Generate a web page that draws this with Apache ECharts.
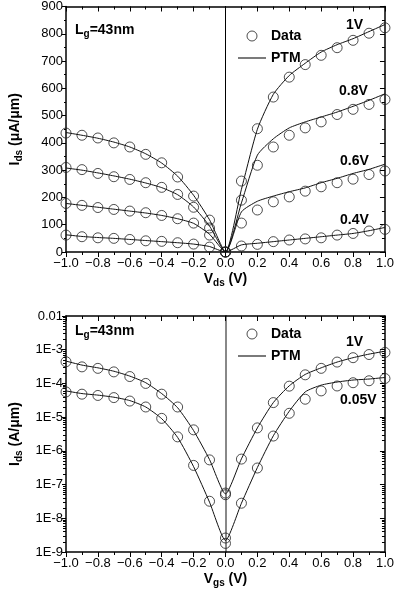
<!DOCTYPE html>
<html>
<head>
<meta charset="utf-8">
<title>Ids-Vds and Ids-Vgs, Lg=43nm</title>
<script src="https://cdn.jsdelivr.net/npm/echarts@6/dist/echarts.min.js"></script>
<style>
  html, body { margin: 0; padding: 0; background: #fff; }
  #chart { width: 397px; height: 597px; }
</style>
</head>
<body>
<div id="chart"></div>
<script>
// bias points (V), same for both panels
var vBias = [-1.0, -0.9, -0.8, -0.7, -0.6, -0.5, -0.4, -0.3, -0.2, -0.1, 0.0,
             0.1, 0.2, 0.3, 0.4, 0.5, 0.6, 0.7, 0.8, 0.9, 1.0];

// top panel: Ids (uA/um) vs Vds, one curve per Vgs
var data1V  = [436, 428, 418, 400, 385, 358, 327, 275, 205, 117, 0, 260, 452, 568, 641, 687, 721, 749, 776, 802, 822];
var data08V = [310, 302, 288, 276, 266, 254, 237, 211, 164, 88, 0, 190, 318, 385, 428, 455, 477, 504, 523, 541, 559];
var data06V = [178, 171, 163, 156, 150, 144, 134, 122, 106, 62, 0, 106, 154, 184, 202, 223, 239, 254, 267, 284, 297];
var data04V = [62, 56, 52, 50, 46, 41, 39, 34, 29, 18, 0, 22, 28, 38, 44, 48, 52, 62, 68, 77, 83];

var ptm1V  = [438, 428, 417, 403, 385, 360, 326, 278, 208, 118, 0, 230, 450, 578, 647, 692, 733, 760, 782, 808, 834];
var ptm08V = [308, 300, 290, 279, 267, 253, 236, 210, 165, 95, 0, 180, 355, 415, 455, 477, 495, 513, 534, 556, 580];
var ptm06V = [178, 171, 164, 157, 150, 143, 134, 122, 105, 65, 0, 147, 186, 205, 221, 235, 254, 270, 288, 303, 322];
var ptm04V = [63, 57, 53, 50, 46, 42, 38, 34, 29, 20, 0, 26, 32, 38, 44, 50, 56, 62, 68, 78, 90];

// bottom panel: Ids (A/um) vs Vgs, one curve per Vds
var dataLog1V  = [4.4e-4, 3.1e-4, 2.8e-4, 2.2e-4, 1.6e-4, 1.0e-4, 4.8e-5, 2.0e-5, 4.2e-6, 5.4e-7, 5.6e-8,
                  5.7e-7, 4.8e-6, 2.7e-5, 8.3e-5, 1.8e-4, 2.8e-4, 4.3e-4, 5.8e-4, 7.2e-4, 8.3e-4];
var dataLog005 = [5.6e-5, 4.8e-5, 4.4e-5, 3.8e-5, 3.0e-5, 2.0e-5, 9.2e-6, 2.6e-6, 3.7e-7, 3.2e-8, 2.6e-9,
                  2.8e-8, 3.1e-7, 2.75e-6, 1.3e-5, 3.4e-5, 6.0e-5, 8.4e-5, 1.05e-4, 1.2e-4, 1.4e-4];
// second, overlapping measurement at Vgs = 0
var dataLogZero = [[0, 5.0e-8], [0, 1.8e-9]];

var ptmLog1V  = [4.6e-4, 3.5e-4, 2.9e-4, 2.3e-4, 1.65e-4, 1.05e-4, 5.0e-5, 1.9e-5, 4.0e-6, 5.5e-7, 5.3e-8,
                 5.8e-7, 4.8e-6, 2.7e-5, 8.5e-5, 1.85e-4, 2.9e-4, 4.3e-4, 5.8e-4, 7.4e-4, 9.0e-4];
var ptmLog005 = [6.0e-5, 5.0e-5, 4.5e-5, 3.9e-5, 3.1e-5, 2.0e-5, 9.0e-6, 2.5e-6, 3.4e-7, 3.0e-8, 2.2e-9,
                 2.8e-8, 3.2e-7, 2.8e-6, 1.5e-5, 5.6e-5, 8.9e-5, 1.1e-4, 1.26e-4, 1.35e-4, 1.5e-4];

function pairs(ys) {
    return vBias.map(function (v, i) { return [v, ys[i]]; });
}

var FONT = 'Liberation Sans, Arial, sans-serif';
var black = '#000';
var circleStyle = { color: 'rgba(0,0,0,0)', borderColor: '#222', borderWidth: 1 };

function dataSeries(ys, xi, yi) {
    return {
        name: 'Data', type: 'scatter', xAxisIndex: xi, yAxisIndex: yi,
        symbol: 'circle', symbolSize: 10,
        itemStyle: circleStyle,
        data: ys, z: 3
    };
}
function ptmSeries(ys, xi, yi) {
    return {
        name: 'PTM', type: 'line', xAxisIndex: xi, yAxisIndex: yi,
        symbol: 'none', smooth: 0.2,
        lineStyle: { color: '#111', width: 1 },
        itemStyle: { color: '#111' },
        data: ys, z: 4
    };
}

function xLabel(v) {
    return v.toFixed(1).replace('-', '\u2212');
}

var nameRich = {
    b: { fontFamily: FONT, fontWeight: 'bold', fontSize: 14, color: black, lineHeight: 18 },
    s: { fontFamily: FONT, fontWeight: 'bold', fontSize: 10, color: black, lineHeight: 12, verticalAlign: 'bottom' }
};

function bottomX(grid, name) {
    return {
        type: 'value', gridIndex: grid, min: -1, max: 1, interval: 0.2,
        name: name, nameLocation: 'middle', nameGap: 18,
        nameTextStyle: { rich: nameRich },
        axisLine: { onZero: false, lineStyle: { color: black, width: 1.5 } },
        axisTick: { inside: false, length: 5, lineStyle: { color: black } },
        minorTick: { show: true, splitNumber: 2, length: 3, lineStyle: { color: black } },
        axisLabel: { formatter: xLabel, fontFamily: FONT, fontSize: 13, color: black, margin: 5 },
        splitLine: { show: false }
    };
}
function topX(grid) {
    return {
        type: 'value', gridIndex: grid, position: 'top', min: -1, max: 1, interval: 0.2,
        axisLine: { onZero: false, lineStyle: { color: black, width: 1.5 } },
        axisTick: { inside: true, length: 5, lineStyle: { color: black } },
        minorTick: { show: true, splitNumber: 2, length: 3, lineStyle: { color: black } },
        axisLabel: { show: false },
        splitLine: { show: false }
    };
}
// plain axis line sitting at V = 0
function zeroY(grid, xIndex, type, min, max, color, width) {
    return {
        type: type, gridIndex: grid, min: min, max: max,
        axisLine: { show: true, onZero: true, onZeroAxisIndex: xIndex, lineStyle: { color: color, width: width } },
        axisTick: { show: false },
        axisLabel: { show: false },
        splitLine: { show: false }
    };
}

function logLabel(v) {
    if (Math.abs(v - 0.01) < 1e-6) return '0.01';
    return '1E' + Math.round(Math.log10(v));
}

var legendItems = [
    { name: 'Data', icon: 'circle', itemStyle: circleStyle },
    { name: 'PTM', icon: 'path://M0,0L28,0L28,1.2L0,1.2Z', itemStyle: { color: '#222' } }
];
function legendAt(top) {
    return {
        data: legendItems, orient: 'vertical', left: 233, top: top,
        itemWidth: 28, itemHeight: 10, itemGap: 8,
        textStyle: { fontFamily: FONT, fontWeight: 'bold', fontSize: 14, color: black }
    };
}

var option = {
    animation: false,
    backgroundColor: '#fff',
    grid: [
        { left: 57, top: 5, width: 331, height: 247 },
        { left: 57, top: 316, width: 331, height: 236 }
    ],
    legend: [legendAt(24), legendAt(322)],
    xAxis: [
        bottomX(0, '{b|V}{s|ds}{b| (V)}'),
        topX(0),
        bottomX(1, '{b|V}{s|gs}{b| (V)}'),
        topX(1)
    ],
    yAxis: [
        {
            type: 'value', gridIndex: 0, min: 0, max: 900, interval: 100,
            name: '{b|I}{s|ds}{b| (\u03bcA/\u03bcm)}', nameLocation: 'middle', nameGap: 42,
            nameTextStyle: { rich: nameRich },
            axisLine: { onZero: false, lineStyle: { color: black, width: 1.5 } },
            axisTick: { length: 4, lineStyle: { color: black } },
            minorTick: { show: true, splitNumber: 2, length: 2, lineStyle: { color: black } },
            axisLabel: { fontFamily: FONT, fontSize: 13, color: black, margin: 3 },
            splitLine: { show: false }
        },
        {
            type: 'value', gridIndex: 0, position: 'right', min: 0, max: 900, interval: 100,
            axisLine: { onZero: false, lineStyle: { color: black, width: 1.5 } },
            axisTick: { inside: true, length: 5, lineStyle: { color: black } },
            minorTick: { show: true, splitNumber: 2, length: 3, lineStyle: { color: black } },
            axisLabel: { show: false },
            splitLine: { show: false }
        },
        {
            type: 'log', logBase: 10, gridIndex: 1, min: 1e-9, max: 0.01, interval: 1,
            name: '{b|I}{s|ds}{b| (A/\u03bcm)}', nameLocation: 'middle', nameGap: 42,
            nameTextStyle: { rich: nameRich },
            axisLine: { onZero: false, lineStyle: { color: black, width: 1.5 } },
            axisTick: { length: 4, lineStyle: { color: black } },
            minorTick: { show: true, splitNumber: 9, length: 3, lineStyle: { color: black } },
            axisLabel: { formatter: logLabel, fontFamily: FONT, fontSize: 13, color: black, margin: 3 },
            splitLine: { show: false }
        },
        {
            type: 'log', logBase: 10, gridIndex: 1, position: 'right', min: 1e-9, max: 0.01, interval: 1,
            axisLine: { onZero: false, lineStyle: { color: black, width: 1.5 } },
            axisTick: { inside: true, length: 5, lineStyle: { color: black } },
            minorTick: { show: true, splitNumber: 9, length: 3, lineStyle: { color: black } },
            axisLabel: { show: false },
            splitLine: { show: false }
        },
        zeroY(0, 0, 'value', 0, 900, black, 1),
        zeroY(1, 2, 'value', 0, 1, '#888', 2)
    ],
    series: [
        ptmSeries(pairs(ptm1V), 0, 0),
        ptmSeries(pairs(ptm08V), 0, 0),
        ptmSeries(pairs(ptm06V), 0, 0),
        ptmSeries(pairs(ptm04V), 0, 0),
        dataSeries(pairs(data1V), 0, 0),
        dataSeries(pairs(data08V), 0, 0),
        dataSeries(pairs(data06V), 0, 0),
        dataSeries(pairs(data04V), 0, 0),
        ptmSeries(pairs(ptmLog1V), 2, 2),
        ptmSeries(pairs(ptmLog005), 2, 2),
        dataSeries(pairs(dataLog1V), 2, 2),
        dataSeries(dataLogZero, 2, 2),
        dataSeries(pairs(dataLog005), 2, 2)
    ],
    graphic: [
        {
            type: 'text', left: 75, top: 23,
            style: {
                text: '{a|L}{g|g}{a|=43nm}',
                rich: {
                    a: { fontFamily: FONT, fontWeight: 'bold', fontSize: 14, fill: black, lineHeight: 18 },
                    g: { fontFamily: FONT, fontWeight: 'bold', fontSize: 10, fill: black, lineHeight: 12, verticalAlign: 'bottom' }
                }
            }
        },
        {
            type: 'text', left: 75, top: 324,
            style: {
                text: '{a|L}{g|g}{a|=43nm}',
                rich: {
                    a: { fontFamily: FONT, fontWeight: 'bold', fontSize: 14, fill: black, lineHeight: 18 },
                    g: { fontFamily: FONT, fontWeight: 'bold', fontSize: 10, fill: black, lineHeight: 12, verticalAlign: 'bottom' }
                }
            }
        },
        { type: 'text', left: 346, top: 18, style: { text: '1V', font: 'bold 14px ' + FONT, fill: black } },
        { type: 'text', left: 339, top: 84, style: { text: '0.8V', font: 'bold 14px ' + FONT, fill: black } },
        { type: 'text', left: 340, top: 154, style: { text: '0.6V', font: 'bold 14px ' + FONT, fill: black } },
        { type: 'text', left: 340, top: 213, style: { text: '0.4V', font: 'bold 14px ' + FONT, fill: black } },
        { type: 'text', left: 346, top: 335, style: { text: '1V', font: 'bold 14px ' + FONT, fill: black } },
        { type: 'text', left: 340, top: 393, style: { text: '0.05V', font: 'bold 14px ' + FONT, fill: black } }
    ]
};

var myChart = echarts.init(document.getElementById('chart'));
myChart.setOption(option);
</script>
</body>
</html>
